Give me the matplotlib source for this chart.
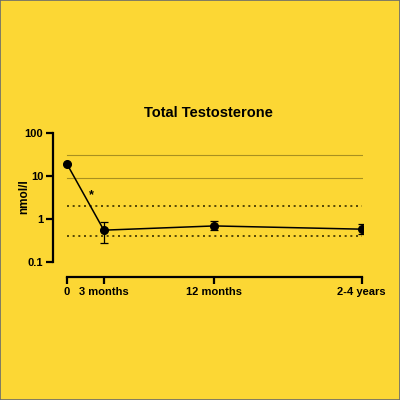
import numpy as np
import matplotlib
matplotlib.use("Agg")
import matplotlib.pyplot as plt
from matplotlib.patches import Rectangle

plt.rcParams['font.family'] = ['Liberation Sans', 'DejaVu Sans']
plt.rcParams['font.weight'] = 'bold'

bg = '#fcd734'

# data (x in months)
x_pos = [0, 3, 12, 24]
x_labels = ['0', '3 months', '12 months', '2-4 years']
mean = [19, 0.55, 0.69, 0.58]
err_low = [19, 0.28, 0.55, 0.46]
err_high = [19, 0.84, 0.88, 0.75]

# reference ranges
solid_refs = [30, 9.1]
dotted_refs = [2.0, 0.4]
star_x, star_y = 2.0, 3.6

fig = plt.figure(figsize=(4, 4), dpi=100, facecolor=bg)
ax = fig.add_axes([53 / 400, 1 - 277 / 400, 310 / 400, 144 / 400])
ax.set_facecolor(bg)

ax.set_yscale('log')
ax.set_ylim(10 ** (2 - 144 / 43), 100)
ax.set_xlim(-14 / 12.3, 24.1)

for r in solid_refs:
    ax.plot([0, 24], [r, r], color='#a89020', lw=0.8)
for r in dotted_refs:
    ax.plot([0, 24], [r, r], color='#3a3000', lw=1.2, ls=(0, (1.2, 2.2)))

yerr = [np.array(mean) - np.array(err_low), np.array(err_high) - np.array(mean)]
ax.errorbar(x_pos, mean, yerr=yerr, color='black', lw=1.1, marker='o',
            markersize=5.5, capsize=3, elinewidth=0.9, capthick=0.9)
ax.text(star_x, star_y, '*', ha='center', va='center', fontsize=9, fontweight='bold')

ax.set_yticks([0.1, 1, 10, 100])
ax.set_yticklabels(['0.1', '1', '10', '100'])
ax.yaxis.set_minor_locator(matplotlib.ticker.NullLocator())
ax.set_xticks(x_pos)
ax.set_xticklabels(x_labels)

for s in ['top', 'right']:
    ax.spines[s].set_visible(False)
ax.spines['left'].set_linewidth(1.6)
ax.spines['bottom'].set_linewidth(1.6)
ax.spines['left'].set_bounds(0.1, 100)
ax.spines['bottom'].set_bounds(0, 24)
ax.tick_params(width=1.6, length=5, labelsize=8, pad=2)
for lbl in ax.get_xticklabels() + ax.get_yticklabels():
    lbl.set_fontweight('bold')

ax.set_ylabel('nmol/l', fontsize=8.5, fontweight='bold')
ax.yaxis.set_label_coords(-23 / 310, (277 - 197) / 144)
fig.text(208 / 400, 1 - 113 / 400, 'Total Testosterone', ha='center', va='center',
         fontsize=10.5, fontweight='bold')

fig.patches.append(Rectangle((0, 0), 1, 1, transform=fig.transFigure, fill=False,
                             edgecolor='#6b6b6b', lw=1.2))

fig.savefig('out.png', dpi=100, facecolor=bg)
